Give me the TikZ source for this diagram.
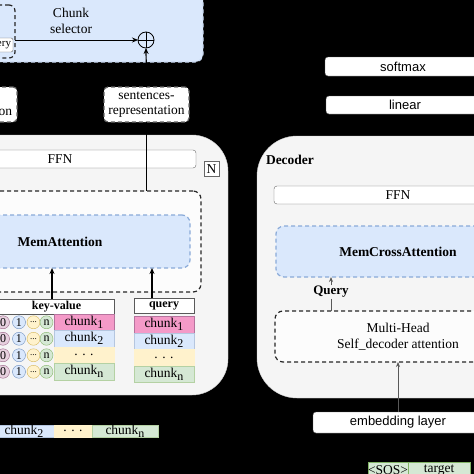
\documentclass[tikz,border=0pt]{standalone}
\usepackage{fontspec}
\setmainfont{Liberation Serif}
\newfontfamily\sansf{Liberation Sans}
\usetikzlibrary{arrows.meta}
\definecolor{lblue}{HTML}{DAE8FC}
\definecolor{bblue}{HTML}{8AAAD8}
\definecolor{selb}{HTML}{C8D8F0}
\definecolor{lgray}{HTML}{F5F5F5}
\definecolor{pinkc}{HTML}{F49AC8}
\definecolor{pinkb}{HTML}{B5739D}
\definecolor{yel}{HTML}{FFF2CC}
\definecolor{yelb}{HTML}{D6B656}
\definecolor{grn}{HTML}{D5E8D4}
\definecolor{grnb}{HTML}{82B366}
\definecolor{mauve}{HTML}{E6D0DE}
\definecolor{mauveb}{HTML}{996185}
\definecolor{bluedk}{HTML}{6C8EBF}
\newcommand{\chk}[1]{chunk\raisebox{-3pt}{\fontsize{12}{12}\selectfont #1}}
\begin{document}
\begin{tikzpicture}[x=1pt,y=-1pt,
  base/.style={inner sep=0pt, outer sep=0pt, rectangle},
  serif13/.style={font=\fontsize{13.5}{15.5}\selectfont},
  dsh/.style={dash pattern=on 4pt off 3pt, line width=1.2pt},
  wbox/.style={base, rounded corners=3pt, draw=gray!80!black, fill=white, font=\sansf\fontsize{13}{15}\selectfont},
  ffnbox/.style={base, rounded corners=3pt, draw=gray!80!black, fill=white, serif13},
  dashbox/.style={base, rounded corners=8pt, draw=black!85, dsh, fill=white!70!lgray},
  bluebox/.style={base, rounded corners=8pt, draw=bblue, dsh, fill=lblue, font=\bfseries\fontsize{13.5}{15.5}\selectfont},
  graybox/.style={base, rounded corners=36pt, draw=gray!40, fill=lgray},
  cell/.style={base, draw=#1, font=\fontsize{13.5}{15}\selectfont},
  head/.style={base, draw=gray!70!black, fill=white, font=\bfseries\fontsize{12}{14}\selectfont},
  circ/.style={base, circle, minimum size=13pt, draw=#1, font=\fontsize{12}{13}\selectfont},
  arr/.style={-{Stealth[length=6pt,width=5pt]}, line width=1.2pt},
  garr/.style={-{Stealth[length=5pt,width=4pt]}, draw=gray!70!black, thick}
]
\path[fill=black,use as bounding box] (0,0) rectangle (474,474);
\clip (0,0) rectangle (474,474);

% chunk selector
\node[base, rounded corners=8pt, draw=selb, dsh, fill=lblue, minimum width=243pt, minimum height=72pt] (chunksel) at (81.5,26) {};
\node[base, align=center, serif13] (chunkseltxt) at (71,21) {Chunk\\selector};
\node[base, rounded corners=6pt, draw=black!85, dsh, fill=lblue, minimum width=45pt, minimum height=53pt] (innersel) at (-7.5,31.5) {};
\node[base, rounded corners=2pt, draw=gray!80!black, fill=white, inner xsep=2pt, minimum height=14pt, anchor=east, font=\fontsize{11}{12}\selectfont] (qsel) at (13,45) {query};
\node[base, circle, draw=black, thick, minimum size=16pt] (oplus) at (146,40) {};
\draw[thick] (oplus.north) -- (oplus.south);
\draw[thick] (oplus.west) -- (oplus.east);
\draw[arr, line width=0.8pt] (innersel.east |- oplus.west) -- (oplus.west);

% sentence representation boxes
\node[base, rounded corners=4pt, draw=gray!80!black, dsh, fill=white, minimum width=85pt, minimum height=35pt, align=center, serif13] (sent) at (146.5,104.5) {sentences-\\representation};
\node[base, rounded corners=4pt, draw=gray!80!black, dsh, fill=white, minimum width=86pt, minimum height=35pt, align=center, serif13] (chrep) at (-26,104.5) {chunks-\\representation};
\draw[arr] (sent.north) -- (oplus.south);

% softmax / linear
\node[wbox, minimum width=156pt, minimum height=19pt] (softmax) at (403,66.5) {softmax};
\node[wbox, minimum width=158pt, minimum height=18pt] (linear) at (405,105) {linear};

% encoder
\node[graybox, minimum width=268pt, minimum height=260pt] (enc) at (94,265) {};
\node[ffnbox, minimum width=272pt, minimum height=18pt] (effn) at (60,159) {FFN};
\node[base, draw=gray!80!black, fill=white, minimum size=15pt, serif13] (nbox) at (211.5,169) {N};
\node[dashbox, minimum width=241pt, minimum height=101pt] (elayer) at (80.5,241.5) {};
\node[bluebox, minimum width=260pt, minimum height=53pt] (memattn) at (60,241.5) {MemAttention};
\draw[line width=1.2pt] (sent.south) -- (sent.south |- elayer.north);

% key-value table
\node[head, minimum width=115pt, minimum height=15pt] (kvhead) at (56.5,306.5) {key-value};
\node[cell=pinkb, fill=pinkc, minimum width=60pt, minimum height=16.5pt] (kv1) at (84,322.25) {\chk{1}};
\node[cell=bluedk!50, fill=lblue, minimum width=60pt, minimum height=16.5pt] (kv2) at (84,338.75) {\chk{2}};
\node[cell=yel, fill=yel, minimum width=60pt, minimum height=16.5pt] (kv3) at (84,355.25) {. . .};
\node[cell=grnb!60, fill=grn, minimum width=60pt, minimum height=16.5pt] (kv4) at (84,371.75) {\chk{n}};
\foreach \r/\y in {1/322.25,2/338.75,3/355.25,4/371.75}{
  \node[circ=mauveb, fill=mauve] (z\r) at (3,\y) {0};
  \node[circ=bluedk, fill=lblue] (o\r) at (19,\y) {1};
  \node[circ=yelb, fill=yel, font=\fontsize{9}{10}\selectfont] (d\r) at (33.5,\y) {...};
  \node[circ=grnb, fill=grn] (n\r) at (46.5,\y) {n};
}

% query table
\node[head, minimum width=60pt, minimum height=15pt] (qhead) at (164,305.5) {query};
\node[cell=pinkb, fill=pinkc, minimum width=60pt, minimum height=16.5pt] (q1) at (164,324.75) {\chk{1}};
\node[cell=bluedk!50, fill=lblue, minimum width=60pt, minimum height=16.5pt] (q2) at (164,341.25) {\chk{2}};
\node[cell=yel, fill=yel, minimum width=60pt, minimum height=16.5pt] (q3) at (164,357.75) {. . .};
\node[cell=grnb!60, fill=grn, minimum width=60pt, minimum height=16.5pt] (q4) at (164,374.25) {\chk{n}};

\draw[arr] ([xshift=-4.5pt]kvhead.north) -- ([xshift=-4.5pt]kvhead.north |- memattn.south);
\draw[arr] ([xshift=-12pt]qhead.north) -- ([xshift=-12pt]qhead.north |- memattn.south);

% bottom chunk row
\node[cell=bluedk!50, fill=lblue, minimum width=60pt, minimum height=12pt] (b2) at (24,431) {\chk{2}};
\node[cell=yel, fill=yel, minimum width=38pt, minimum height=12pt] (b3) at (73,431) {. . .};
\node[cell=grnb!60, fill=grn, minimum width=66pt, minimum height=12pt] (b4) at (125,431) {\chk{n}};

% decoder
\node[graybox, rounded corners=40pt, minimum width=263pt, minimum height=262pt] (dec) at (388.5,267) {};
\node[base, anchor=west, font=\bfseries\fontsize{13.5}{15}\selectfont] (dectitle) at (266,160) {Decoder};
\node[ffnbox, minimum width=248pt, minimum height=18pt] (dffn) at (398,195) {FFN};
\node[bluebox, minimum width=244pt, minimum height=51pt] (mca) at (398,251.5) {MemCrossAttention};
\node[base, fill=lgray, inner sep=1pt, font=\bfseries\fontsize{13}{15}\selectfont] (qlabel) at (331,292) {Query};
\node[dashbox, minimum width=246pt, minimum height=51pt, align=center, serif13] (mh) at (398,336.5) {Multi-Head\\Self\_decoder attention};
\draw[garr] (qlabel.north) -- (qlabel.north |- mca.south);
\draw[draw=gray!70!black] (qlabel.south) -- (qlabel.south |- mh.north);
\node[wbox, minimum width=170pt, minimum height=21pt] (emb) at (398,422.5) {embedding layer};
\draw[garr] (emb.north) -- (mh.south);

% target row
\node[cell=grnb, fill=grn, minimum width=40pt, minimum height=16pt] (sos) at (388,470) {<SOS>};
\node[cell=grnb, fill=grn, minimum width=62pt, minimum height=16pt] (target) at (439,470) {target};
\end{tikzpicture}
\end{document}
